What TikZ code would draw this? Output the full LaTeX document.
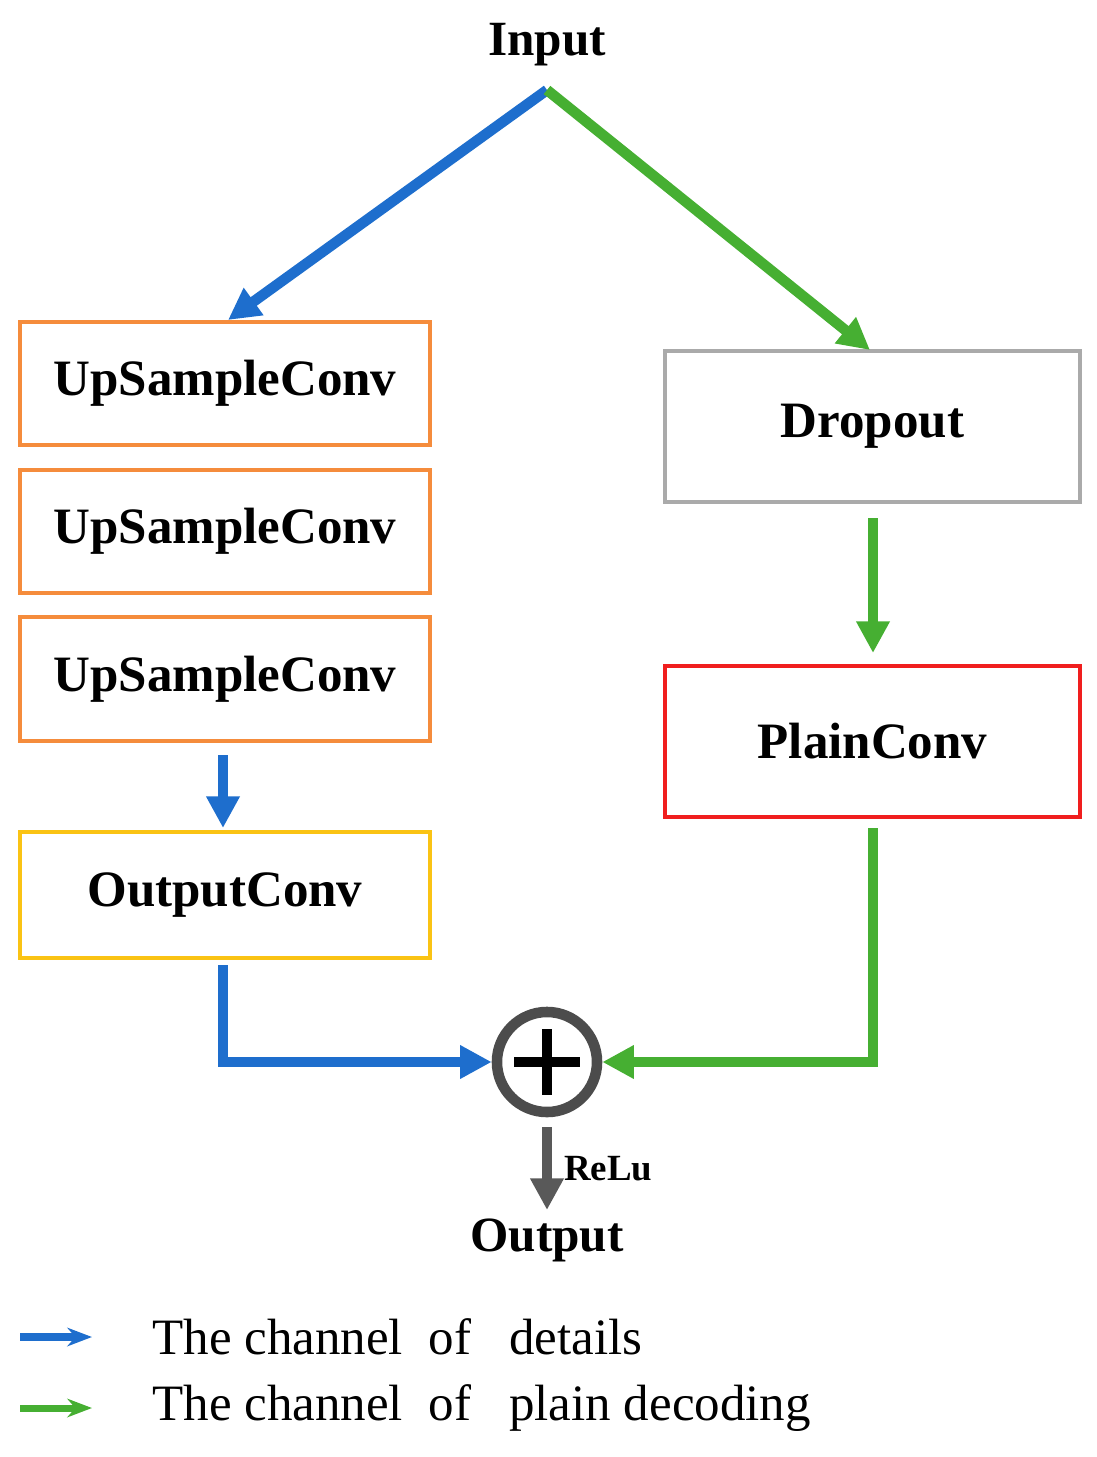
\documentclass[tikz,border=0pt]{standalone}
\usepackage{fontspec}
\setmainfont{Liberation Serif}
\usetikzlibrary{arrows.meta,calc}
\definecolor{chblue}{RGB}{30,110,205}
\definecolor{chgreen}{RGB}{70,175,50}
\definecolor{boxorange}{RGB}{245,140,60}
\definecolor{boxyellow}{RGB}{250,195,20}
\definecolor{boxgray}{RGB}{170,170,170}
\definecolor{boxred}{RGB}{240,30,30}
\tikzset{
  block/.style = {draw, line width = 1.3pt, inner sep = 0pt, font = \fontsize{14.5}{16}\selectfont\bfseries},
  chan/.style = {line width = 3pt, -{Triangle[length = 9pt, width = 9pt]}},
}
\begin{document}
\begin{tikzpicture}[x = 0.01cm, y = -0.01cm]
\useasboundingbox (0,0) rectangle (1096,1457);
\node[font = \fontsize{14}{16}\selectfont\bfseries] (input) at (547,45) {Input};
\coordinate (split) at (547,90);
% channel of details
\node[block, draw = boxorange, text width = 4.1cm, minimum height = 1.23cm, align = center] (up1) at (225,383.5) {UpSampleConv};
\node[block, draw = boxorange, text width = 4.1cm, minimum height = 1.23cm, align = center] (up2) at (225,531.5) {UpSampleConv};
\node[block, draw = boxorange, text width = 4.1cm, minimum height = 1.24cm, align = center] (up3) at (225,679) {UpSampleConv};
\node[block, draw = boxyellow, text width = 4.1cm, minimum height = 1.26cm, align = center] (outconv) at (225,895) {OutputConv};
% channel of plain decoding
\node[block, draw = boxgray, text width = 4.15cm, minimum height = 1.51cm, align = center] (drop) at (872.5,426.5) {Dropout};
\node[block, draw = boxred, text width = 4.15cm, minimum height = 1.51cm, align = center] (plain) at (872.5,741.5) {PlainConv};
\node[circle, draw = black!70, line width = 3pt, minimum size = 1.0cm, inner sep = 0pt] (add) at (547,1062) {};
\draw[line width = 3pt] ($(add)+(-33,0)$) -- ++(66,0) ($(add)+(0,-33)$) -- ++(0,66);
\node[font = \fontsize{14}{16}\selectfont\bfseries] (output) at (547,1240) {Output};
\draw[chan, chblue] (split) -- (228,320);
\draw[chan, chgreen] (split) -- (870,350);
\draw[chan, chblue] (223,755) -- (223,828);
\draw[chan, chgreen] (873,518) -- (873,653);
\draw[chan, chblue] (223,965) -- (223,1062) -- (add.west);
\draw[chan, chgreen] (873,828) -- (873,1062) -- (add.east);
\draw[chan, black!65] (547,1127) -- node[right, black, font = \fontsize{10.5}{12}\selectfont\bfseries] {ReLu} (547,1210);
% legend
\draw[chblue, line width = 2pt, -{Stealth[length = 7pt]}] (20,1337) -- (92,1337);
\node[anchor = west, font = \fontsize{14.5}{16}\selectfont] (leg1) at (140,1337) {The channel\ \ of\ \ \ details};
\draw[chgreen, line width = 2pt, -{Stealth[length = 7pt]}] (20,1408) -- (92,1408);
\node[anchor = west, font = \fontsize{14.5}{16}\selectfont] (leg2) at (140,1408) {The channel\ \ of\ \ \ plain decoding};
\end{tikzpicture}
\end{document}
